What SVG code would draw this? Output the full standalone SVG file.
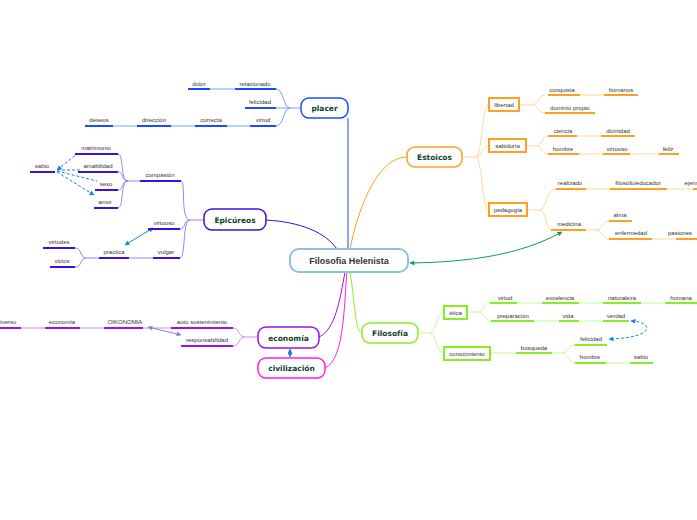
<svg xmlns="http://www.w3.org/2000/svg" width="697" height="520" viewBox="0 0 697 520">
<defs>
<style>
text{font-family:"Liberation Sans",Arial,sans-serif}
.t{font-size:6px;fill:#333;text-anchor:middle}
.m{font-family:"DejaVu Sans",Verdana,sans-serif;font-size:7.5px;font-weight:bold;fill:#0d4030;text-anchor:middle}
.c{fill:none;stroke-width:1}
.u{stroke-width:2}
.bl{stroke:#1a4cff}.blc{stroke:#7aa0ff}
.vi{stroke:#3a10e0}.vic{stroke:#9a80ff}
.pu{stroke:#9a10ee}.puc{stroke:#c890f8}
.or{stroke:#ffa020}.orc{stroke:#ffd8a0}
.gr{stroke:#88ee22}.grc{stroke:#c8f8a0}
.box{fill:#fff;stroke-width:2}
.da{fill:none;stroke:#1a80e0;stroke-width:1;stroke-dasharray:3 2}
</style>
<marker id="a" viewBox="0 0 10 10" refX="9" refY="5" markerWidth="5" markerHeight="5" orient="auto-start-reverse"><path d="M0,0L10,5L0,10z" fill="#1a80e0"/></marker>
<marker id="ag" viewBox="0 0 10 10" refX="9" refY="5" markerWidth="5" markerHeight="5" orient="auto-start-reverse"><path d="M0,0L10,5L0,10z" fill="#10a050"/></marker>
<marker id="ap" viewBox="0 0 10 10" refX="9" refY="5" markerWidth="5" markerHeight="5" orient="auto-start-reverse"><path d="M0,0L10,5L0,10z" fill="#9080c0"/></marker>
</defs>
<rect width="697" height="520" fill="#fff"/>
<g id="connectors">
<path class="c bl" stroke-width="1.5" d="M348,118 L348,249"/>
<path class="c or" stroke-width="1.5" d="M350,249 C360,200 380,157 407,157"/>
<path class="c vi" stroke-width="1.5" d="M266,220 C300,222 325,232 337,249"/>
<path class="c pu" stroke-width="1.5" d="M319,337 C335,330 340,300 345,272"/>
<path class="c" stroke="#ff1ee6" stroke-width="1.5" d="M325,368 C345,360 344,300 347,272"/>
<path class="c gr" stroke-width="1.5" d="M350,272 C355,300 355,333 362,333"/>
<path class="c" stroke="#10a050" d="M410,263 C470,262 520,255 562,232" marker-start="url(#ag)" marker-end="url(#ag)"/>
<path class="c blc" d="M301,108 L290,108 C283,108 284,89 276,89 M290,108 L276,108 M290,108 C283,108 284,126 276,126 M210,89 L235,89 M113,126 L137,126 M171,126 L195,126 M227,126 L250,126"/>
<path class="c vic" d="M204,220 L190,220 C180,220 186,181 181,181 M190,220 C183,220 186,229 180,229 M190,220 C182,220 186,258 180,258 M140,181 L128,181 C120,181 124,154 118,154 M128,181 C121,181 124,172 118,172 M128,181 C121,181 124,190 118,190 M128,181 C120,181 124,208 118,208 M129,258 L153,258 M99,258 L86,258 C80,258 82,248 75,248 M86,258 C80,258 82,267 75,267"/>
<path class="da" d="M57,170 L77,154 M57,170 L80,170 M57,171 L97,181 M57,172 L94,195" marker-start="url(#a)" marker-end="url(#a)"/>
<path d="M153,228 L125,245" stroke="#1a80e0" fill="none" marker-start="url(#a)" marker-end="url(#a)"/>
<path class="c puc" d="M258,337 L245,337 C238,337 240,328 233,328 M245,337 C238,337 240,346 233,346 M143,328 L171,328 M80,328 L104,328 M21,328 L45,328"/>
<path d="M148,327 L181,335" stroke="#9080c0" fill="none" marker-start="url(#ap)" marker-end="url(#ap)"/>
<path d="M290,349 L290,357" stroke="#1a80e0" fill="none" marker-start="url(#a)" marker-end="url(#a)"/>
<path class="c orc" d="M462,157 L476,157 C482,157 482,105 489,105 M476,157 C482,157 482,146 489,146 M476,157 C482,157 482,210 489,210 M519,105 L532,105 C538,105 538,95 545,95 M532,105 C538,105 538,113 545,113 M580,95 L604,95 M526,146 L537,146 C542,146 542,136 548,136 M537,146 C542,146 542,154 548,154 M577,136 L601,136 M579,154 L603,154 M630,154 L659,154 M527,210 L540,210 C546,210 546,189 556,189 M540,210 C546,210 546,230 551,230 M586,189 L610,189 M667,189 L693,189 M586,230 L596,230 C602,230 602,221 609,221 M596,230 C602,230 602,239 609,239 M652,239 L676,239"/>
<path class="c grc" d="M418,333 L430,333 C436,333 436,312 444,312 M430,333 C436,333 436,353 444,353 M467,312 L478,312 C484,312 484,303 490,303 M478,312 C484,312 484,321 491,321 M517,303 L542,303 M579,303 L603,303 M641,303 L665,303 M534,321 L559,321 M579,321 L603,321 M490,353 L516,353 M552,353 L562,353 C568,353 568,345 575,345 M562,353 C568,353 568,363 575,363 M606,363 L630,363"/>
<path class="da" d="M631,321 C655,322 655,338 609,339" marker-start="url(#a)" marker-end="url(#a)"/>
</g>
<g id="center"><rect x="290" y="249" width="118" height="23" rx="9" fill="#fff" stroke="#8ec0e4" stroke-width="2"/><text x="349" y="264" font-family="DejaVu Sans,Verdana,sans-serif" font-size="9" font-weight="bold" fill="#333" text-anchor="middle">Filosofia Helenista</text></g>
<g id="placer"><rect x="301" y="98" width="47" height="20" rx="8" fill="#fff" stroke="#1a4cff" stroke-width="1.5"/><text class="m" x="324.5" y="111">placer</text></g>
<g id="epicureos"><rect x="204" y="209" width="62" height="21" rx="8" fill="#fff" stroke="#3a10e0" stroke-width="1.5"/><text class="m" x="235" y="222.5">Epicúreos</text></g>
<g id="economia"><rect x="258" y="327" width="61" height="21" rx="8" fill="#fff" stroke="#9a10ee" stroke-width="1.5"/><text class="m" x="288.5" y="340.5">economía</text></g>
<g id="civilizacion"><rect x="258" y="358" width="67" height="20" rx="8" fill="#fff" stroke="#ff1ee6" stroke-width="1.5"/><text class="m" x="291.5" y="371">civilización</text></g>
<g id="estoicos"><rect x="407" y="147" width="55" height="20" rx="8" fill="#fff" stroke="#ffa020" stroke-width="1.5"/><text class="m" x="434.5" y="160">Estoicos</text></g>
<g id="filosofia"><rect x="362" y="323" width="56" height="20" rx="8" fill="#fff" stroke="#88ee22" stroke-width="1.5"/><text class="m" x="390" y="336">Filosofía</text></g>
<g id="boxes">
<rect class="box or" x="489" y="98" width="30" height="13"/><text class="t" x="504" y="107">libertad</text>
<rect class="box or" x="489" y="139" width="37" height="13"/><text class="t" x="507.5" y="148">sabiduría</text>
<rect class="box or" x="489" y="203" width="38" height="13"/><text class="t" x="508" y="212">pedagogía</text>
<rect class="box gr" x="444" y="306" width="23" height="13"/><text class="t" x="455.5" y="315">ética</text>
<rect class="box gr" x="444" y="347" width="46" height="13"/><text class="t" x="467" y="356">conocimiento</text>
</g>
<g id="topics">
<g class="bl u">
<line x1="235" y1="89" x2="276" y2="89"/><line x1="188" y1="89" x2="210" y2="89"/><line x1="245" y1="108" x2="276" y2="108"/><line x1="250" y1="126" x2="276" y2="126"/><line x1="195" y1="126" x2="227" y2="126"/><line x1="137" y1="126" x2="171" y2="126"/><line x1="85" y1="126" x2="113" y2="126"/>
</g>
<text class="t" x="255" y="86">relacionado</text><text class="t" x="199" y="86">dolor</text><text class="t" x="260" y="104">felicidad</text><text class="t" x="263" y="122">virtud</text><text class="t" x="211" y="122">correcta</text><text class="t" x="154" y="122">dirección</text><text class="t" x="99" y="122">deseos</text>
<g class="vi u">
<line x1="140" y1="181" x2="181" y2="181"/><line x1="148" y1="229" x2="180" y2="229"/><line x1="153" y1="258" x2="180" y2="258"/><line x1="75" y1="154" x2="118" y2="154"/><line x1="78" y1="172" x2="118" y2="172"/><line x1="95" y1="190" x2="118" y2="190"/><line x1="94" y1="208" x2="118" y2="208"/><line x1="30" y1="172" x2="55" y2="172"/><line x1="99" y1="258" x2="129" y2="258"/><line x1="43" y1="248" x2="75" y2="248"/><line x1="50" y1="267" x2="75" y2="267"/>
</g>
<text class="t" x="160" y="177">compasión</text><text class="t" x="164" y="225">virtuoso</text><text class="t" x="166" y="254">vulgar</text><text class="t" x="96" y="150">matrimonio</text><text class="t" x="98" y="168">amabilidad</text><text class="t" x="106" y="186">sexo</text><text class="t" x="105" y="204">amor</text><text class="t" x="42" y="168">sabio</text><text class="t" x="114" y="254">practica</text><text class="t" x="59" y="244">virtudes</text><text class="t" x="62" y="263">vicios</text>
<g class="pu u">
<line x1="171" y1="328" x2="233" y2="328"/><line x1="181" y1="346" x2="233" y2="346"/><line x1="104" y1="328" x2="143" y2="328"/><line x1="45" y1="328" x2="80" y2="328"/><line x1="0" y1="328" x2="21" y2="328"/>
</g>
<text class="t" x="202" y="324">auto sostenimiento</text><text class="t" x="207" y="342">responsabilidad</text><text class="t" x="125" y="324">OIKONOMIA</text><text class="t" x="62" y="324">economía</text><text class="t" x="5" y="324">universo</text>
<g class="or u">
<line x1="548" y1="95" x2="580" y2="95"/><line x1="604" y1="95" x2="638" y2="95"/><line x1="545" y1="113" x2="595" y2="113"/><line x1="548" y1="136" x2="577" y2="136"/><line x1="601" y1="136" x2="635" y2="136"/><line x1="548" y1="154" x2="579" y2="154"/><line x1="603" y1="154" x2="630" y2="154"/><line x1="659" y1="154" x2="679" y2="154"/><line x1="556" y1="189" x2="586" y2="189"/><line x1="610" y1="189" x2="667" y2="189"/><line x1="693" y1="189" x2="697" y2="189"/><line x1="551" y1="230" x2="586" y2="230"/><line x1="609" y1="221" x2="632" y2="221"/><line x1="609" y1="239" x2="652" y2="239"/><line x1="676" y1="239" x2="697" y2="239"/>
</g>
<text class="t" x="562" y="92">conquista</text><text class="t" x="621" y="92">humanos</text><text class="t" x="570" y="110">dominio propio</text><text class="t" x="563" y="133">ciencia</text><text class="t" x="618" y="133">divinidad</text><text class="t" x="563" y="151">hombre</text><text class="t" x="617" y="151">virtuoso</text><text class="t" x="668" y="151">feliz</text><text class="t" x="570" y="185">realizado</text><text class="t" x="638" y="185">filosófo/educador</text><text class="t" x="695" y="185" text-anchor="start">ejemplo</text><text class="t" x="569" y="226">medicina</text><text class="t" x="620" y="217">alma</text><text class="t" x="631" y="235">enfermedad</text><text class="t" x="680" y="235" text-anchor="start">pasiones</text>
<g class="gr u">
<line x1="490" y1="303" x2="517" y2="303"/><line x1="542" y1="303" x2="579" y2="303"/><line x1="603" y1="303" x2="641" y2="303"/><line x1="665" y1="303" x2="697" y2="303"/><line x1="491" y1="321" x2="534" y2="321"/><line x1="559" y1="321" x2="579" y2="321"/><line x1="603" y1="321" x2="629" y2="321"/><line x1="516" y1="353" x2="552" y2="353"/><line x1="575" y1="345" x2="607" y2="345"/><line x1="575" y1="363" x2="606" y2="363"/><line x1="630" y1="363" x2="653" y2="363"/>
</g>
<text class="t" x="505" y="300">virtud</text><text class="t" x="560" y="300">excelencia</text><text class="t" x="622" y="300">naturaleza</text><text class="t" x="681" y="300">humana</text><text class="t" x="513" y="318">preparación</text><text class="t" x="568" y="318">vida</text><text class="t" x="616" y="318">verdad</text><text class="t" x="534" y="350">búsqueda</text><text class="t" x="591" y="341">felicidad</text><text class="t" x="590" y="359">hombre</text><text class="t" x="641" y="359">sabio</text>
</g>
</svg>
